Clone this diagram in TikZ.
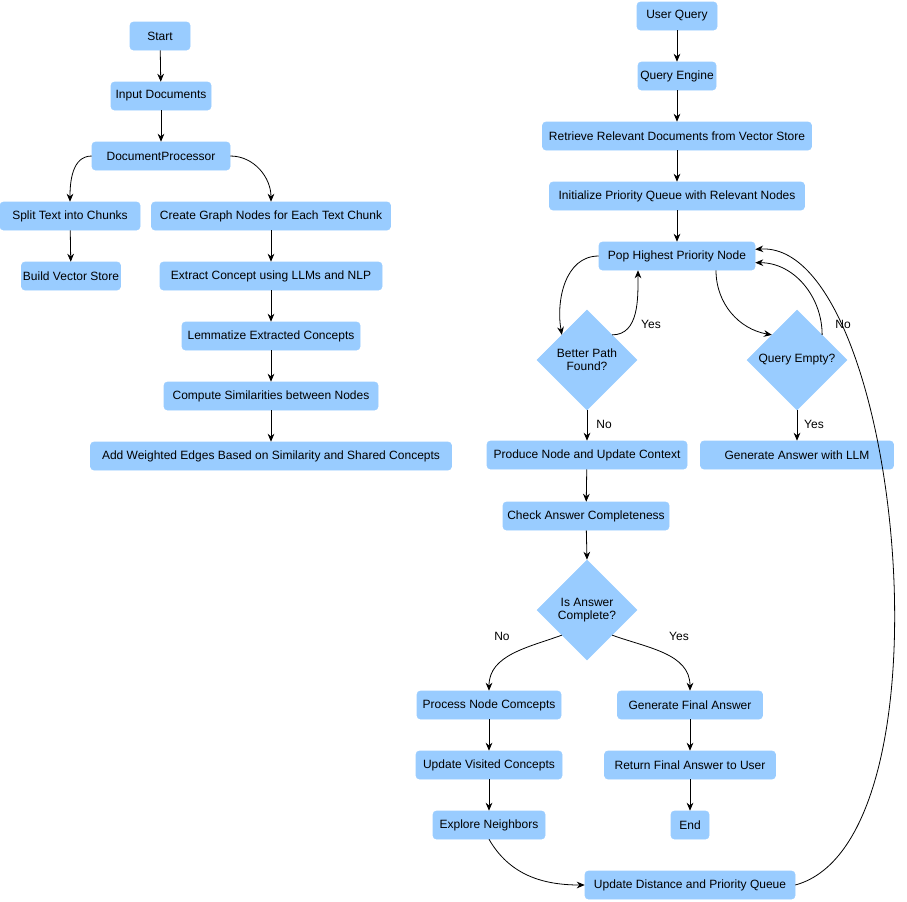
\documentclass[tikz,border=0pt]{standalone}
\usepackage{fontspec}
\setmainfont{Liberation Sans}
\usetikzlibrary{arrows.meta,shapes.geometric}
\definecolor{nb}{HTML}{99CCFF}
\begin{document}
\begin{tikzpicture}[x=0.75pt,y=-0.75pt,
 box/.style={fill=nb,draw=nb,rounded corners=2.5pt,minimum height=21pt,inner xsep=0pt,font=\fontsize{9}{10}\selectfont},
 dia/.style={diamond,fill=nb,draw=nb,minimum width=75pt,minimum height=75pt,inner sep=0pt,align=center,font=\fontsize{9}{10}\selectfont},
 ar/.style={-{Stealth[length=6pt,width=5pt]},line width=0.6pt},
 lb/.style={font=\fontsize{9}{10}\selectfont}]
\useasboundingbox (0,0) rectangle (907,901);
\newcommand\bx[5]{\node[box,minimum width=#4*0.75pt] (#1) at (#2,#3) {#5};}
\bx{start}{160}{36}{60}{Start}
\bx{input}{161}{96}{100}{Input Documents}
\bx{dp}{161}{156}{138}{DocumentProcessor}
\bx{split}{70}{216}{140}{Split Text into Chunks}
\bx{bvs}{71}{276}{99}{Build Vector Store}
\bx{cgn}{271}{216}{239}{Create Graph Nodes for Each Text Chunk}
\bx{ext}{271}{276}{222}{Extract Concept using LLMs and NLP}
\bx{lem}{271}{336}{178}{Lemmatize Extracted Concepts}
\bx{cs}{271}{396}{214}{Compute Similarities between Nodes}
\bx{awe}{271}{456}{361}{Add Weighted Edges Based on Similarity and Shared Concepts}
\bx{uq}{677}{16}{80}{User Query}
\bx{qe}{677}{76}{78}{Query Engine}
\bx{ret}{677}{136}{269}{Retrieve Relevant Documents from Vector Store}
\bx{ini}{677}{196}{255}{Initialize Priority Queue with Relevant Nodes}
\bx{pop}{677}{256}{156}{Pop Highest Priority Node}
\node[dia] (bp) at (587,360) {Better Path\\Found?};
\node[dia] (qem) at (797,360) {Query Empty?};
\bx{pn}{587}{455}{200}{Produce Node and Update Context}
\bx{gal}{797}{455}{193}{Generate Answer with LLM}
\bx{chk}{586}{516}{166}{Check Answer Completeness}
\node[dia] (iac) at (587,610) {Is Answer\\Complete?};
\bx{pnc}{489}{705}{144}{Process Node Comcepts}
\bx{gfa}{690}{705}{145}{Generate Final Answer}
\bx{uvc}{489}{765}{146}{Update Visited Concepts}
\bx{rfa}{690}{765}{171}{Return Final Answer to User}
\bx{exn}{489}{825}{112}{Explore Neighbors}
\bx{end}{690}{825}{38}{End}
\bx{udp}{690}{885}{210}{Update Distance and Priority Queue}
\draw[ar] (start)--(input);
\draw[ar] (input)--(dp);
\draw[ar] (dp.west) to[out=180,in=90] (split.north);
\draw[ar] (dp.east) to[out=0,in=90] (cgn.north);
\draw[ar] (split)--(bvs);
\draw[ar] (cgn)--(ext);
\draw[ar] (ext)--(lem);
\draw[ar] (lem)--(cs);
\draw[ar] (cs)--(awe);
\draw[ar] (uq)--(qe);
\draw[ar] (qe)--(ret);
\draw[ar] (ret)--(ini);
\draw[ar] (ini)--(pop);
\draw[ar] (pop.west) to[out=180,in=100] (bp.north west);
\draw[ar] (bp.north east) to[out=0,in=-90] (pop.south -| 638,0);
\node[lb] at (651,324) {Yes};
\draw[ar] (pop.south -| 716,0) to[out=-90,in=170] (qem.north west);
\draw[ar] (qem.north east) to[out=90,in=0] ([yshift=-5pt]pop.east);
\node[lb] at (843,324) {No};
\draw[ar] (bp.south)--(pn);
\node[lb] at (604,424) {No};
\draw[ar] (qem.south)--(gal);
\node[lb] at (814,424) {Yes};
\draw[ar] (pn)--(chk);
\draw[ar] (chk)--(iac.north);
\draw[ar] (iac.south west) to[out=200,in=90] (pnc.north);
\node[lb] at (502,636) {No};
\draw[ar] (iac.south east) to[out=-20,in=90] (gfa.north);
\node[lb] at (679,636) {Yes};
\draw[ar] (pnc)--(uvc);
\draw[ar] (uvc)--(exn);
\draw[ar] (exn.south) to[out=-60,in=180] (udp.west);
\draw[ar] (gfa)--(rfa);
\draw[ar] (rfa)--(end);
\draw[ar] (udp.east) .. controls (960,840) and (900,240) .. ([yshift=5pt]pop.east);
\end{tikzpicture}
\end{document}
